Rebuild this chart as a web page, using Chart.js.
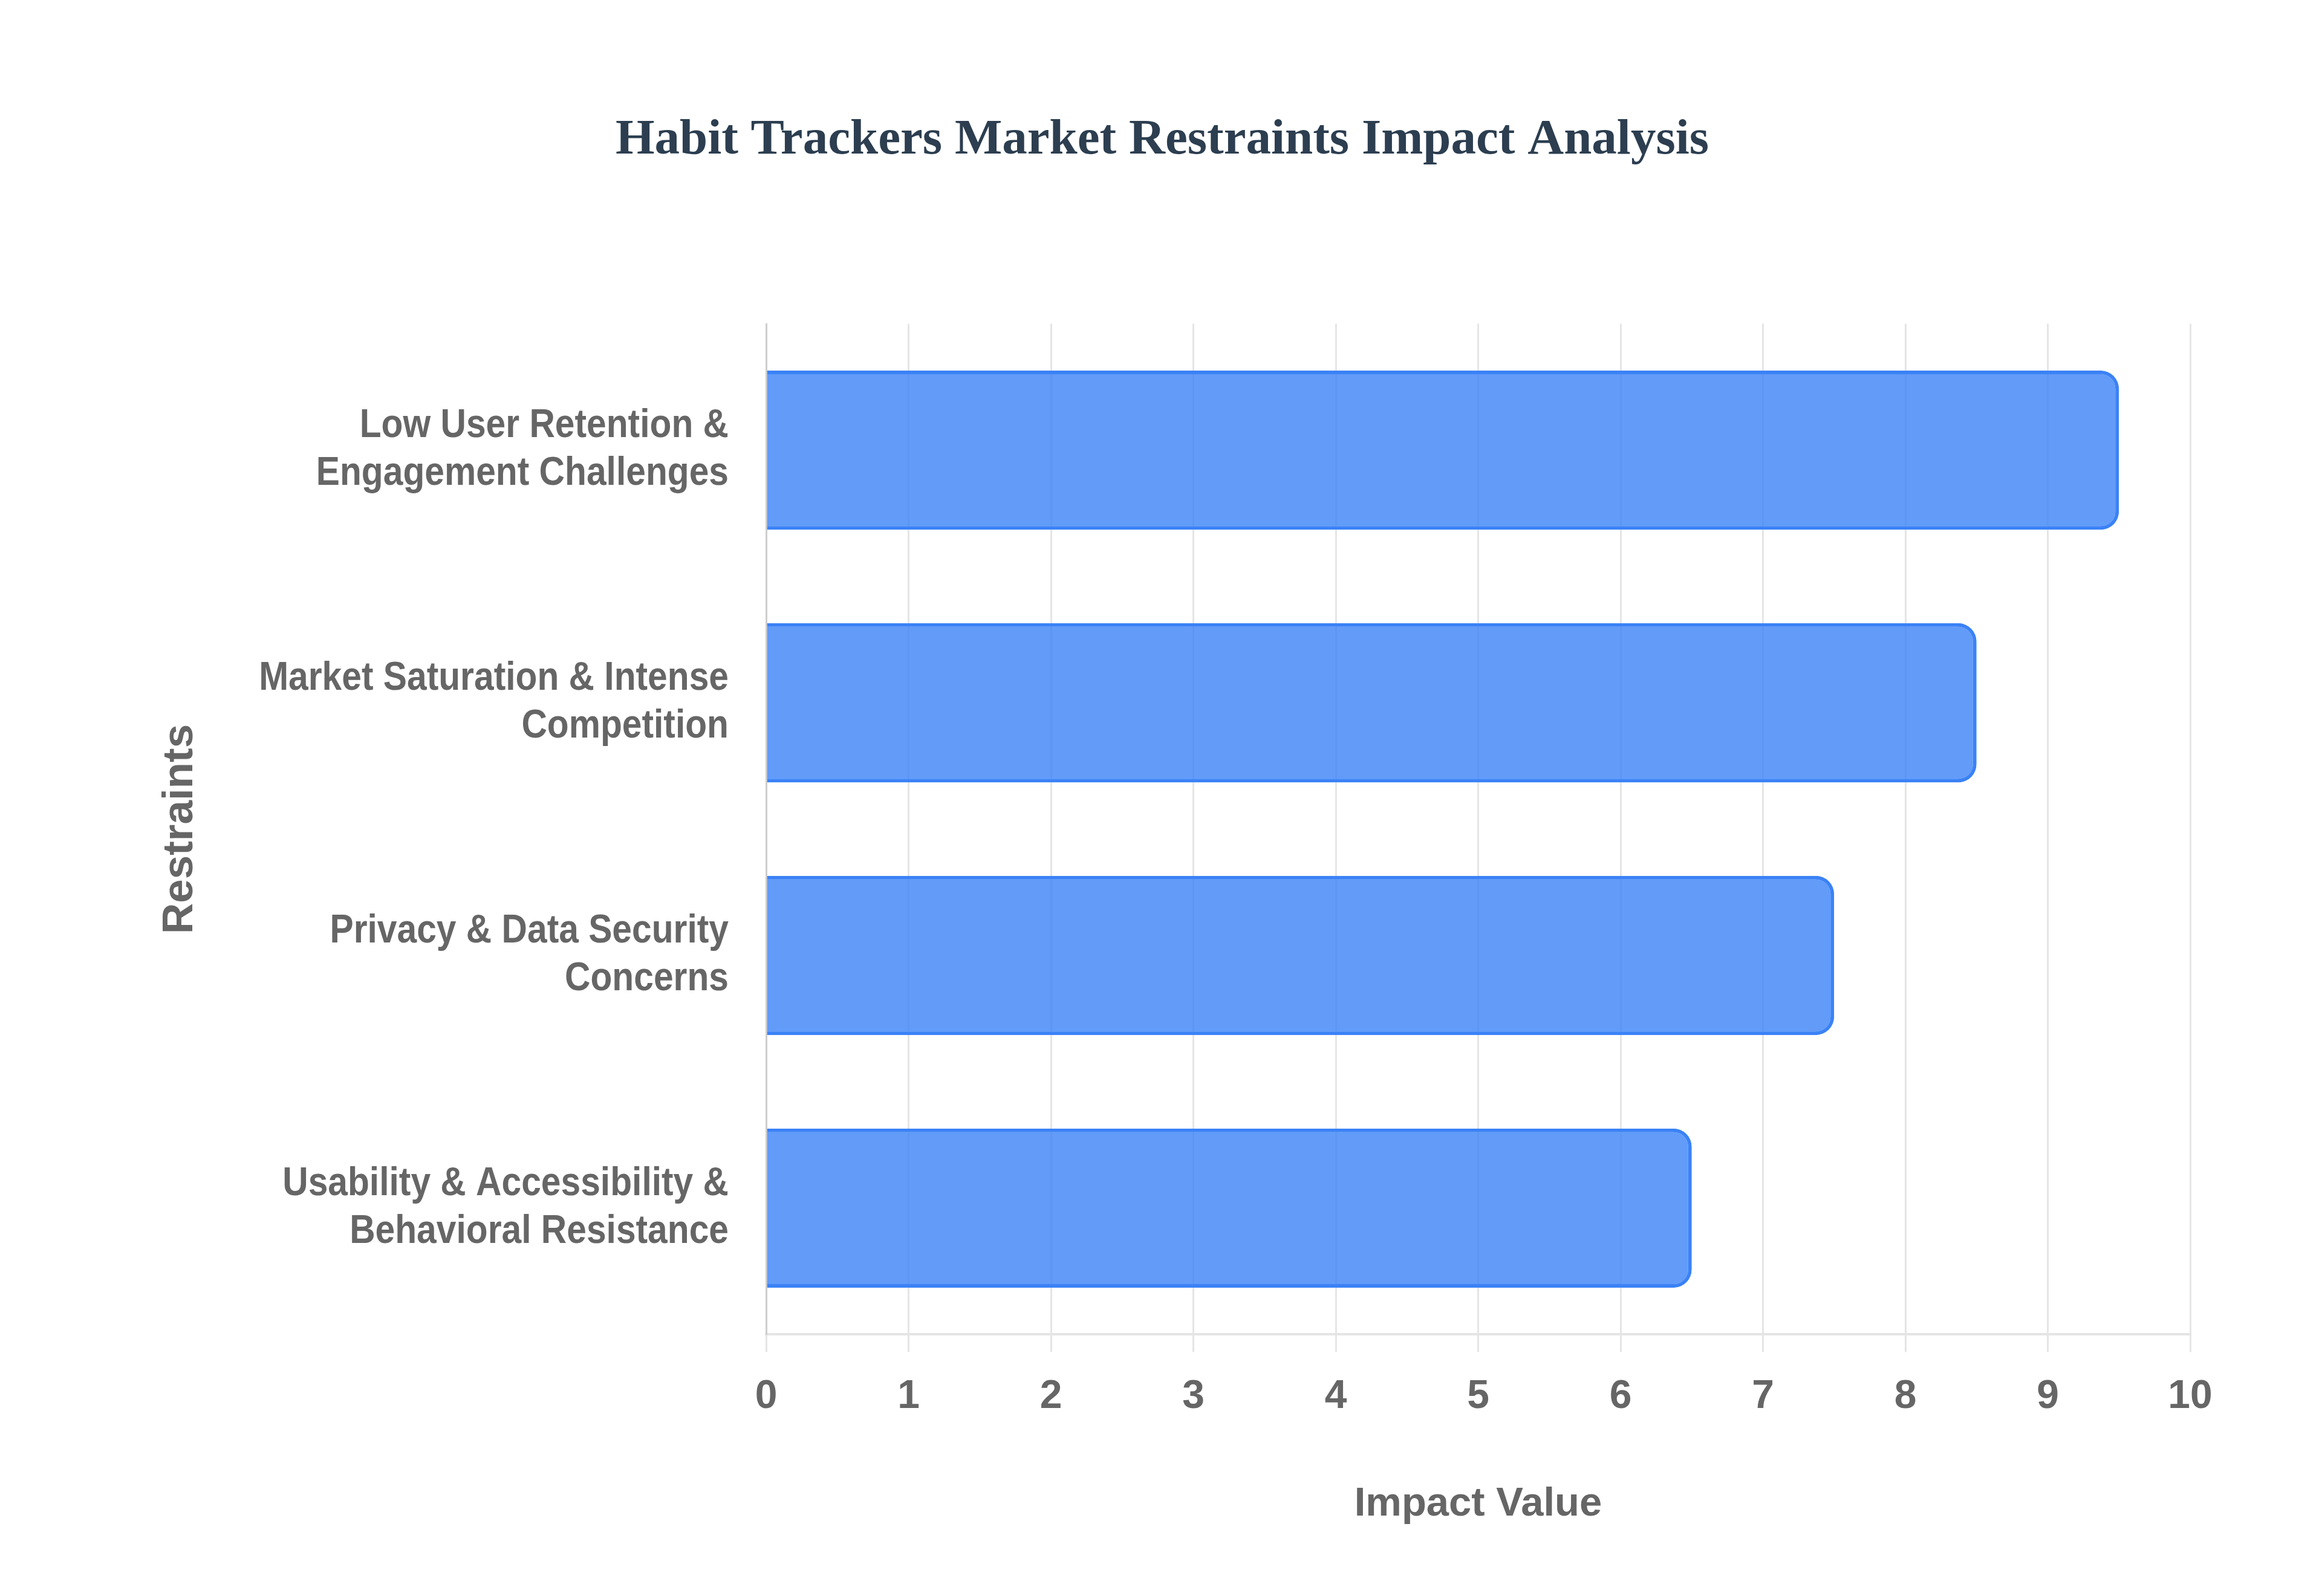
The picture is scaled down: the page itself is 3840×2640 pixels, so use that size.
<!DOCTYPE html>
<html>
<head>
<meta charset="utf-8">
<title>Habit Trackers Market Restraints Impact Analysis</title>
<script src="https://cdn.jsdelivr.net/npm/chart.js@4.4.1/dist/chart.umd.min.js"></script>
<style>
  html, body { margin: 0; padding: 0; background: #fff; }
  canvas { display: block; }
</style>
</head>
<body>
<canvas id="chart" width="3840" height="2640"></canvas>
<script>
const TITLE = "Habit Trackers Market Restraints Impact Analysis";

// categories (multi-line, as drawn on the axis)
const restraints = [
  ["Low User Retention &", "Engagement Challenges"],
  ["Market Saturation & Intense", "Competition"],
  ["Privacy & Data Security", "Concerns"],
  ["Usability & Accessibility &", "Behavioral Resistance"]
];
const impactValues = [9.5, 8.5, 7.5, 6.5];

const X_MIN = 0;
const X_MAX = 10;
const X_STEP = 1;

const SANS = "'Liberation Sans', Arial, Helvetica, sans-serif";
const TXT = "#666666";

// the category labels in the original use a narrower face than Arial,
// so squeeze them a bit horizontally while they are drawn
function condenseLabels(scale, k) {
  if (scale._condensed) return;
  scale._condensed = true;
  const draw = scale.drawLabels.bind(scale);
  scale.drawLabels = function (area) {
    const ctx = this.ctx;
    const fill = ctx.fillText;
    ctx.fillText = function (t, x, y, w) {
      this.save();
      this.translate(x, y);
      this.scale(k, 1);
      fill.call(this, t, 0, 0, w);
      this.restore();
    };
    draw(area);
    ctx.fillText = fill;
  };
}

new Chart(document.getElementById("chart"), {
  type: "bar",
  data: {
    labels: restraints,
    datasets: [{
      label: "Impact Value",
      data: impactValues,
      backgroundColor: "rgba(59, 130, 246, 0.8)",
      borderColor: "rgb(59, 130, 246)",
      borderWidth: 6,
      borderRadius: 30,
      categoryPercentage: 1,
      barPercentage: 0.63
    }]
  },
  options: {
    indexAxis: "y",
    responsive: false,
    devicePixelRatio: 1,
    animation: false,
    layout: { padding: { left: 222, right: 218, top: 0, bottom: 111 } },
    plugins: {
      legend: { display: false },
      tooltip: { enabled: false },
      title: {
        display: true,
        text: TITLE,
        color: "#2c3e50",
        font: { family: "'Liberation Serif', 'Times New Roman', serif", size: 83, weight: "bold" },
        padding: { top: 183, bottom: 253 }
      }
    },
    scales: {
      x: {
        min: X_MIN,
        max: X_MAX,
        ticks: {
          stepSize: X_STEP,
          color: TXT,
          padding: 35,
          font: { family: SANS, size: 66, weight: "bold" }
        },
        grid: { color: "rgba(0,0,0,0.1)", lineWidth: 3, tickLength: 29 },
        border: { color: "rgba(0,0,0,0.1)", width: 4 },
        title: {
          display: true,
          text: "Impact Value",
          color: TXT,
          font: { family: SANS, size: 67, weight: "bold" },
          padding: { top: 63, bottom: 0 }
        }
      },
      y: {
        ticks: {
          color: TXT,
          padding: 54,
          font: { family: SANS, size: 66, weight: "bold" }
        },
        grid: { display: false },
        border: { color: "rgba(0,0,0,0.1)", width: 3 },
        title: {
          display: true,
          text: "Restraints",
          color: TXT,
          font: { family: SANS, size: 71, weight: "bold" },
          padding: { top: 34, bottom: 0 }
        },
        afterFit(scale) { scale.width = 1267 - 222; },
        afterUpdate(scale) { condenseLabels(scale, 0.89); }
      }
    }
  }
});
</script>
</body>
</html>
